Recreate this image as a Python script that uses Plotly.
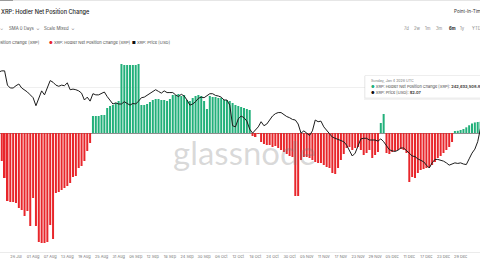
import pandas as pd
import plotly.graph_objects as go

# ---------------- data ----------------
price_dates = pd.date_range("2025-07-20", "2026-01-05", freq="D")   # 170 days
bar_dates = price_dates[1:]                                          # Jul 21 .. Jan 5

# XRP Hodler Net Position Change, millions of XRP
hodler_jul_aug = [-616, -990, -1496, -1518, -1518, -1540, -1650, -1694, -1826, -1716,
                  -2046, -1430, -2046, -2398, -2420, -2420, -2398, -2024, -2332, -1320,
                  -1298, -1254, -1210, -1166, -1100, -968, -946, -770, -726, -616,
                  -396, -220]                                                   # Jul 21 - Aug 21
hodler_aug_oct = [374, 374, 374, 396, 396, 550, 594, 616, 660, 704,             # Aug 22 - 31
                  1518, 1496, 1496, 1496, 1496, 1496, 1518,                     # Sep 1 - 7
                  616, 616, 638, 682, 726, 748, 748, 726, 726, 704,
                  748, 836, 836, 858, 814, 836, 726, 704, 770, 814,
                  836, 814, 704, 528, 814, 792, 792, 770, 770, 726,
                  726, 704, 660, 616, 594, 572, 550, 528, 506]                  # Sep 8 - Oct 16
hodler_oct_nov = [-66, -88, -11,                                                # Oct 17 - 19
                  -198, -242, -264, -264, -308, -286, -330, -374, -418, -462,
                  -506, -528,                                                   # Oct 20 - 31
                  -1386, -1386,                                                 # Nov 1 - 2
                  -594, -528, -528, -550, -594, -638, -660, -660, -704, -748,
                  -770, -880, -902, -770, -594, -462, -330, -308, -374, -330,
                  -308, -374, -484, -440, -374, -550, -484, -418]               # Nov 3 - 30
hodler_dec_jan = [220, 418,                                                     # Dec 1 - 2
                  -440, -462, -418, -396, -374, -352, -374, -440, -1078, -968,
                  -990, -880, -814, -792, -770, -748, -704, -638, -550, -506,
                  -440, -374, -308, -198,                                       # Dec 3 - 26
                  44, 48, 66, 88, 125, 170, 210, 232, 242.6935088729, 250]      # Dec 27 - Jan 5

# XRP price, USD (Jul 20 2025 .. Jan 5 2026)
price_jul_aug = [3.50, 3.52, 3.52, 3.27, 3.22, 3.22, 3.26, 3.29, 3.22, 3.19,
                 3.15, 3.10, 3.05, 2.91, 3.06, 3.17, 3.10, 3.24, 3.35, 3.32,
                 3.27, 3.25, 3.27, 3.26, 3.31, 3.19, 3.20, 3.19, 3.17, 3.13,
                 3.01, 3.06, 2.99, 3.12, 3.10, 3.10, 3.12, 3.15, 3.07, 3.01,
                 2.94, 2.96, 2.94]
price_sep_oct = [2.94, 2.98, 2.95, 2.92, 2.95, 2.94, 2.99,
                 3.05, 3.06, 3.09, 3.13, 3.16, 3.19, 3.16, 3.13, 3.17, 3.14,
                 3.14, 3.14, 3.10, 3.07, 3.11, 3.08, 3.01, 2.92, 2.94, 2.98,
                 3.04, 3.06, 3.05, 3.08, 3.12, 3.12, 3.09, 3.08, 3.06, 3.01,
                 3.01, 2.92, 2.56, 2.54, 2.68, 2.73, 2.70, 2.64, 2.50, 2.43,
                 2.48, 2.54, 2.63, 2.56, 2.59, 2.66, 2.73, 2.77, 2.79, 2.79,
                 2.75, 2.72, 2.70, 2.67]
price_nov_jan = [2.66, 2.59, 2.43, 2.47, 2.43, 2.39,
                 2.47, 2.66, 2.63, 2.64, 2.54, 2.47, 2.42, 2.36, 2.34, 2.31,
                 2.30, 2.28, 2.22, 2.13, 2.03, 2.08, 2.22, 2.33, 2.34, 2.34,
                 2.31, 2.31, 2.31, 2.29, 2.33, 2.28, 2.21, 2.14, 2.12, 2.11,
                 2.13, 2.17, 2.17, 2.13, 2.08, 2.03, 2.02, 1.98, 1.96, 1.93,
                 1.87, 1.82, 1.91, 1.97, 1.97, 1.96, 1.94, 1.91, 1.87, 1.89,
                 1.91, 1.90, 1.91, 1.89, 1.88, 1.98, 2.08, 2.15, 2.28, 2.52]

hodler = [v * 1e6 for v in hodler_jul_aug + hodler_aug_oct + hodler_oct_nov + hodler_dec_jan]
price = price_jul_aug + price_sep_oct + price_nov_jan

RED = "#e8262b"
GREEN = "#22b07a"
bar_colors = [GREEN if v >= 0 else RED for v in hodler]

# ---------------- figure ----------------
W, H = 480, 270
T, B = 58, 18
PH = H - T - B


def px(x):
    return x / W


def py(y):
    return (H - B - y) / PH


fig = go.Figure()
fig.add_trace(go.Bar(x=bar_dates, y=hodler, marker=dict(color=bar_colors, line=dict(width=0)),
                     yaxis="y", hoverinfo="skip", showlegend=False))
fig.add_trace(go.Scatter(x=price_dates, y=price, mode="lines", yaxis="y2",
                         line=dict(color="#1c1c1c", width=1), hoverinfo="skip", showlegend=False))

t0 = pd.Timestamp("2025-07-20")
xr = [t0 + pd.Timedelta(days=0.386), t0 + pd.Timedelta(days=168.807)]

FONT = "Inter"
fig.update_layout(
    width=W, height=H, margin=dict(l=0, r=0, t=T, b=B),
    paper_bgcolor="white", plot_bgcolor="white",
    bargap=0.3,
    xaxis=dict(type="date", range=xr, tickformat="%d %b", tick0="2025-07-20",
               dtick=6 * 86400000, showgrid=False, zeroline=False,
               showline=True, linecolor="#ebebeb", linewidth=1, ticks="",
               tickfont=dict(family=FONT, size=3.9, color="#777")),
    yaxis=dict(range=[-2618e6, 1650e6], showticklabels=False, showgrid=True,
               tickvals=[1e9], gridcolor="#efefef", gridwidth=1,
               zeroline=True, zerolinecolor="#8f8f8f", zerolinewidth=1),
    yaxis2=dict(range=[0.35, 3.745], overlaying="y", showticklabels=False,
                showgrid=False, zeroline=False),
)

ann = []


def text(x, y, s, size, color, anchor="left", weight=None):
    f = dict(family=FONT, size=size, color=color)
    if weight:
        f["weight"] = weight
    ann.append(dict(x=px(x), y=py(y), xref="paper", yref="paper", text=s, showarrow=False,
                    xanchor=anchor, yanchor="middle", font=f))


# watermark
ann.append(dict(x=px(244), y=py(152), xref="paper", yref="paper", text="glassnode",
                showarrow=False, xanchor="center", yanchor="middle",
                font=dict(family="Lato", size=33, color="rgba(120,120,120,0.28)")))

# header
text(-1.5, 12, "XRP: Hodler Net Position Change", 5.6, "#222", weight=500)
text(-2, 28, "⌄", 4.3, "#777")
text(7, 28, "SMA 0 Days  ⌄", 4.3, "#555")
text(42, 28, "Scale Mixed  ⌄", 4.3, "#555")
text(42, 42, "XRP: Hodler Net Position Change [XRP]", 4.1, "#444", anchor="right")
text(46.5, 42, f"<span style='color:{RED}'>●</span> XRP: Hodler Net Position Change [XRP]", 4.1, "#444")
text(129.5, 42, "<span style='color:#111'>■</span> XRP: Price [USD]", 4.1, "#444")
text(452, 12, "Point-In-Time", 4.6, "#333")
for lab, cx in [("7d", 406), ("2w", 417), ("1m", 427.5), ("3m", 439), ("1y", 462), ("YTD", 476)]:
    text(cx, 28, lab, 4.2, "#888", anchor="center")
text(452, 28, "<b>6m</b>", 4.2, "#222", anchor="center")

# tooltip box
shapes = [
    dict(type="line", xref="paper", yref="paper", x0=0, x1=1, y0=py(0.5), y1=py(0.5),
         line=dict(color="#e6e6e6", width=1)),
    dict(type="line", xref="paper", yref="paper", x0=0, x1=px(13), y0=py(0.5), y1=py(0.5),
         line=dict(color="#9a9a9a", width=1)),
    dict(type="rect", xref="paper", yref="paper", x0=px(364), x1=px(484), y0=py(100), y1=py(76),
         fillcolor="rgba(0,0,0,0.05)", line=dict(width=0), layer="above"),
    dict(type="rect", xref="paper", yref="paper", x0=px(365), x1=px(483), y0=py(98), y1=py(75.5),
         fillcolor="white", line=dict(color="#e2e2e2", width=0.6), layer="above"),
]
text(368.5, 80.5, "Sunday, Jan 4 2026 UTC", 3.6, "#777")
text(368.5, 86.7, f"<span style='color:{GREEN}'>●</span> XRP: Hodler Net Position Change [XRP]: <b>242,693,508.8729</b>", 3.95, "#444")
text(368.5, 92.4, "<span style='color:#111'>●</span> XRP: Price [USD]: <b>$2.07</b>", 3.95, "#444")

fig.update_layout(annotations=ann, shapes=shapes)
fig.write_html("out.html")
